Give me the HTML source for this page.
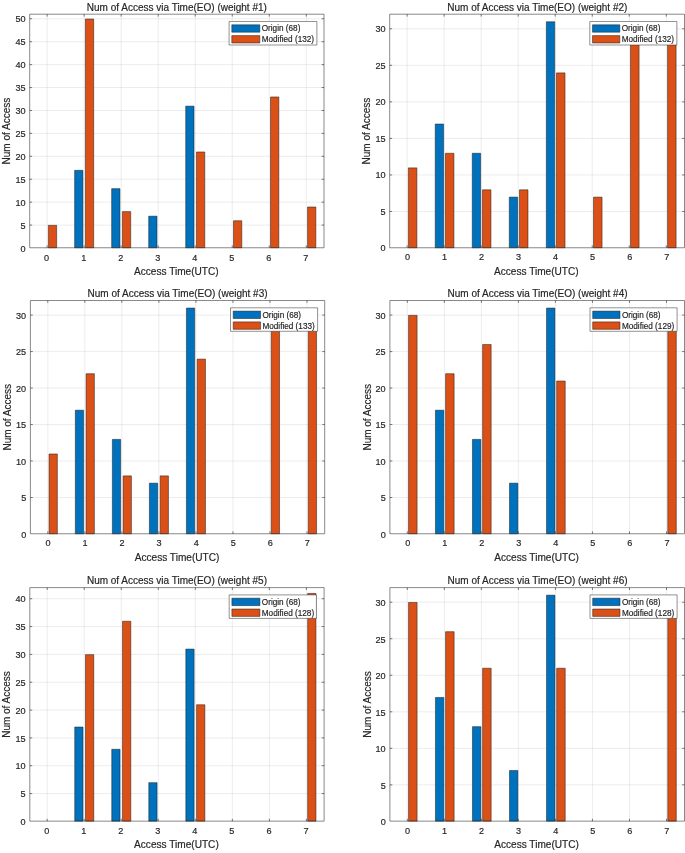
<!DOCTYPE html>
<html lang="en"><head><meta charset="utf-8"><title>Num of Access via Time(EO)</title>
<style>html,body{margin:0;padding:0;background:#fff}body{width:685px;height:853px;overflow:hidden}svg{display:block}</style></head>
<body>
<svg width="685" height="853" viewBox="0 0 685 853" font-family="'Liberation Sans', Arial, Helvetica, sans-serif" fill="#262626" stroke="#262626" stroke-width="0.18" stroke-linejoin="round">
<rect width="685" height="853" fill="#fff" stroke="none"/>
<g>
<path d="M47.1 14.2V247.75M84.13 14.2V247.75M121.16 14.2V247.75M158.19 14.2V247.75M195.22 14.2V247.75M232.25 14.2V247.75M269.28 14.2V247.75M306.31 14.2V247.75M29.7 225.08H324M29.7 202.16H324M29.7 179.24H324M29.7 156.31H324M29.7 133.39H324M29.7 110.47H324M29.7 87.55H324M29.7 64.63H324M29.7 41.71H324M29.7 18.78H324" stroke="#262626" stroke-opacity="0.14" stroke-width="0.6" fill="none"/>
<rect x="48.35" y="225.33" width="8.3" height="22.42" fill="#DB5017" stroke="#1a1a1a" stroke-width="0.5"/>
<rect x="74.63" y="170.32" width="8.3" height="77.43" fill="#0072BD" stroke="#1a1a1a" stroke-width="0.5"/>
<rect x="85.38" y="19.03" width="8.3" height="228.72" fill="#DB5017" stroke="#1a1a1a" stroke-width="0.5"/>
<rect x="111.66" y="188.65" width="8.3" height="59.1" fill="#0072BD" stroke="#1a1a1a" stroke-width="0.5"/>
<rect x="122.41" y="211.58" width="8.3" height="36.17" fill="#DB5017" stroke="#1a1a1a" stroke-width="0.5"/>
<rect x="148.69" y="216.16" width="8.3" height="31.59" fill="#0072BD" stroke="#1a1a1a" stroke-width="0.5"/>
<rect x="185.72" y="106.14" width="8.3" height="141.61" fill="#0072BD" stroke="#1a1a1a" stroke-width="0.5"/>
<rect x="196.47" y="151.98" width="8.3" height="95.77" fill="#DB5017" stroke="#1a1a1a" stroke-width="0.5"/>
<rect x="233.5" y="220.74" width="8.3" height="27.01" fill="#DB5017" stroke="#1a1a1a" stroke-width="0.5"/>
<rect x="270.53" y="96.97" width="8.3" height="150.78" fill="#DB5017" stroke="#1a1a1a" stroke-width="0.5"/>
<rect x="307.56" y="206.99" width="8.3" height="40.76" fill="#DB5017" stroke="#1a1a1a" stroke-width="0.5"/>
<path d="M47.1 247.75v-2.4M47.1 14.2v2.4M84.13 247.75v-2.4M84.13 14.2v2.4M121.16 247.75v-2.4M121.16 14.2v2.4M158.19 247.75v-2.4M158.19 14.2v2.4M195.22 247.75v-2.4M195.22 14.2v2.4M232.25 247.75v-2.4M232.25 14.2v2.4M269.28 247.75v-2.4M269.28 14.2v2.4M306.31 247.75v-2.4M306.31 14.2v2.4M29.7 225.08h2.4M324 225.08h-2.4M29.7 202.16h2.4M324 202.16h-2.4M29.7 179.24h2.4M324 179.24h-2.4M29.7 156.31h2.4M324 156.31h-2.4M29.7 133.39h2.4M324 133.39h-2.4M29.7 110.47h2.4M324 110.47h-2.4M29.7 87.55h2.4M324 87.55h-2.4M29.7 64.63h2.4M324 64.63h-2.4M29.7 41.71h2.4M324 41.71h-2.4M29.7 18.78h2.4M324 18.78h-2.4" stroke="#262626" stroke-width="0.6" fill="none"/>
<rect x="29.7" y="14.2" width="294.3" height="233.55" fill="none" stroke="#262626" stroke-width="0.55"/>
<g font-size="9.1" text-anchor="middle">
<text x="46.65" y="260.55">0</text>
<text x="83.68" y="260.55">1</text>
<text x="120.71" y="260.55">2</text>
<text x="157.74" y="260.55">3</text>
<text x="194.77" y="260.55">4</text>
<text x="231.8" y="260.55">5</text>
<text x="268.83" y="260.55">6</text>
<text x="305.86" y="260.55">7</text>
</g>
<g font-size="9.1" text-anchor="end">
<text x="25.5" y="251.6">0</text>
<text x="25.5" y="228.68">5</text>
<text x="25.5" y="205.76">10</text>
<text x="25.5" y="182.84">15</text>
<text x="25.5" y="159.91">20</text>
<text x="25.5" y="136.99">25</text>
<text x="25.5" y="114.07">30</text>
<text x="25.5" y="91.15">35</text>
<text x="25.5" y="68.23">40</text>
<text x="25.5" y="45.31">45</text>
<text x="25.5" y="22.38">50</text>
</g>
<text x="176.85" y="10.7" font-size="10" text-anchor="middle">Num of Access via Time(EO) (weight #1)</text>
<text x="176.35" y="274.65" font-size="10.1" text-anchor="middle">Access Time(UTC)</text>
<text transform="translate(9.8 131.1) rotate(-90)" font-size="10" text-anchor="middle">Num of Access</text>
<rect x="229.1" y="21.5" width="87.8" height="23.5" fill="#fff" stroke="#262626" stroke-width="0.5"/>
<rect x="231.8" y="24.8" width="28" height="7.4" fill="#0072BD" stroke="#1a1a1a" stroke-width="0.5"/>
<rect x="231.8" y="35.6" width="28" height="7.4" fill="#DB5017" stroke="#1a1a1a" stroke-width="0.5"/>
<text x="261.7" y="31.4" font-size="8.2">Origin (68)</text>
<text x="261.7" y="42.4" font-size="8.2">Modified (132)</text>
</g>
<g>
<path d="M407.1 14.2V247.75M444.13 14.2V247.75M481.16 14.2V247.75M518.19 14.2V247.75M555.22 14.2V247.75M592.25 14.2V247.75M629.28 14.2V247.75M666.31 14.2V247.75M389.7 211.47H684.5M389.7 174.94H684.5M389.7 138.41H684.5M389.7 101.88H684.5M389.7 65.34H684.5M389.7 28.81H684.5" stroke="#262626" stroke-opacity="0.14" stroke-width="0.6" fill="none"/>
<rect x="408.35" y="167.88" width="8.55" height="79.87" fill="#DB5017" stroke="#1a1a1a" stroke-width="0.5"/>
<rect x="435.23" y="124.04" width="8.4" height="123.71" fill="#0072BD" stroke="#1a1a1a" stroke-width="0.5"/>
<rect x="445.38" y="153.27" width="8.55" height="94.48" fill="#DB5017" stroke="#1a1a1a" stroke-width="0.5"/>
<rect x="472.26" y="153.27" width="8.4" height="94.48" fill="#0072BD" stroke="#1a1a1a" stroke-width="0.5"/>
<rect x="482.41" y="189.8" width="8.55" height="57.95" fill="#DB5017" stroke="#1a1a1a" stroke-width="0.5"/>
<rect x="509.29" y="197.11" width="8.4" height="50.64" fill="#0072BD" stroke="#1a1a1a" stroke-width="0.5"/>
<rect x="519.44" y="189.8" width="8.55" height="57.95" fill="#DB5017" stroke="#1a1a1a" stroke-width="0.5"/>
<rect x="546.32" y="21.76" width="8.4" height="225.99" fill="#0072BD" stroke="#1a1a1a" stroke-width="0.5"/>
<rect x="556.47" y="72.9" width="8.55" height="174.85" fill="#DB5017" stroke="#1a1a1a" stroke-width="0.5"/>
<rect x="593.5" y="197.11" width="8.55" height="50.64" fill="#DB5017" stroke="#1a1a1a" stroke-width="0.5"/>
<rect x="630.53" y="25.41" width="8.55" height="222.34" fill="#DB5017" stroke="#1a1a1a" stroke-width="0.5"/>
<rect x="667.56" y="25.41" width="8.55" height="222.34" fill="#DB5017" stroke="#1a1a1a" stroke-width="0.5"/>
<path d="M407.1 247.75v-2.4M407.1 14.2v2.4M444.13 247.75v-2.4M444.13 14.2v2.4M481.16 247.75v-2.4M481.16 14.2v2.4M518.19 247.75v-2.4M518.19 14.2v2.4M555.22 247.75v-2.4M555.22 14.2v2.4M592.25 247.75v-2.4M592.25 14.2v2.4M629.28 247.75v-2.4M629.28 14.2v2.4M666.31 247.75v-2.4M666.31 14.2v2.4M389.7 211.47h2.4M684.5 211.47h-2.4M389.7 174.94h2.4M684.5 174.94h-2.4M389.7 138.41h2.4M684.5 138.41h-2.4M389.7 101.88h2.4M684.5 101.88h-2.4M389.7 65.34h2.4M684.5 65.34h-2.4M389.7 28.81h2.4M684.5 28.81h-2.4" stroke="#262626" stroke-width="0.6" fill="none"/>
<rect x="389.7" y="14.2" width="294.8" height="233.55" fill="none" stroke="#262626" stroke-width="0.55"/>
<g font-size="9.1" text-anchor="middle">
<text x="407.5" y="260.1">0</text>
<text x="444.53" y="260.1">1</text>
<text x="481.56" y="260.1">2</text>
<text x="518.59" y="260.1">3</text>
<text x="555.62" y="260.1">4</text>
<text x="592.65" y="260.1">5</text>
<text x="629.68" y="260.1">6</text>
<text x="666.71" y="260.1">7</text>
</g>
<g font-size="9.1" text-anchor="end">
<text x="385.5" y="251.4">0</text>
<text x="385.5" y="214.87">5</text>
<text x="385.5" y="178.34">10</text>
<text x="385.5" y="141.81">15</text>
<text x="385.5" y="105.28">20</text>
<text x="385.5" y="68.74">25</text>
<text x="385.5" y="32.21">30</text>
</g>
<text x="537.35" y="10.7" font-size="10" text-anchor="middle">Num of Access via Time(EO) (weight #2)</text>
<text x="536.35" y="274.65" font-size="10.1" text-anchor="middle">Access Time(UTC)</text>
<text transform="translate(370.4 131.1) rotate(-90)" font-size="10" text-anchor="middle">Num of Access</text>
<rect x="589.8" y="21.5" width="87.1" height="23.5" fill="#fff" stroke="#262626" stroke-width="0.5"/>
<rect x="592.5" y="24.8" width="27.3" height="7.4" fill="#0072BD" stroke="#1a1a1a" stroke-width="0.5"/>
<rect x="592.5" y="35.6" width="27.3" height="7.4" fill="#DB5017" stroke="#1a1a1a" stroke-width="0.5"/>
<text x="621.7" y="31.4" font-size="8.2">Origin (68)</text>
<text x="621.7" y="42.4" font-size="8.2">Modified (132)</text>
</g>
<g>
<path d="M47.8 300.5V533.75M84.83 300.5V533.75M121.86 300.5V533.75M158.89 300.5V533.75M195.92 300.5V533.75M232.95 300.5V533.75M269.98 300.5V533.75M307.01 300.5V533.75M30.4 497.52H324.7M30.4 461.03H324.7M30.4 424.55H324.7M30.4 388.06H324.7M30.4 351.58H324.7M30.4 315.09H324.7" stroke="#262626" stroke-opacity="0.14" stroke-width="0.6" fill="none"/>
<rect x="49.05" y="453.98" width="8.3" height="79.77" fill="#DB5017" stroke="#1a1a1a" stroke-width="0.5"/>
<rect x="75.33" y="410.2" width="8.3" height="123.55" fill="#0072BD" stroke="#1a1a1a" stroke-width="0.5"/>
<rect x="86.08" y="373.72" width="8.3" height="160.03" fill="#DB5017" stroke="#1a1a1a" stroke-width="0.5"/>
<rect x="112.36" y="439.39" width="8.3" height="94.36" fill="#0072BD" stroke="#1a1a1a" stroke-width="0.5"/>
<rect x="123.11" y="475.88" width="8.3" height="57.88" fill="#DB5017" stroke="#1a1a1a" stroke-width="0.5"/>
<rect x="149.39" y="483.17" width="8.3" height="50.58" fill="#0072BD" stroke="#1a1a1a" stroke-width="0.5"/>
<rect x="160.14" y="475.88" width="8.3" height="57.88" fill="#DB5017" stroke="#1a1a1a" stroke-width="0.5"/>
<rect x="186.42" y="308.05" width="8.3" height="225.7" fill="#0072BD" stroke="#1a1a1a" stroke-width="0.5"/>
<rect x="197.17" y="359.12" width="8.3" height="174.62" fill="#DB5017" stroke="#1a1a1a" stroke-width="0.5"/>
<rect x="271.23" y="315.34" width="8.3" height="218.41" fill="#DB5017" stroke="#1a1a1a" stroke-width="0.5"/>
<rect x="308.26" y="315.34" width="8.3" height="218.41" fill="#DB5017" stroke="#1a1a1a" stroke-width="0.5"/>
<path d="M47.8 533.75v-2.4M47.8 300.5v2.4M84.83 533.75v-2.4M84.83 300.5v2.4M121.86 533.75v-2.4M121.86 300.5v2.4M158.89 533.75v-2.4M158.89 300.5v2.4M195.92 533.75v-2.4M195.92 300.5v2.4M232.95 533.75v-2.4M232.95 300.5v2.4M269.98 533.75v-2.4M269.98 300.5v2.4M307.01 533.75v-2.4M307.01 300.5v2.4M30.4 497.52h2.4M324.7 497.52h-2.4M30.4 461.03h2.4M324.7 461.03h-2.4M30.4 424.55h2.4M324.7 424.55h-2.4M30.4 388.06h2.4M324.7 388.06h-2.4M30.4 351.58h2.4M324.7 351.58h-2.4M30.4 315.09h2.4M324.7 315.09h-2.4" stroke="#262626" stroke-width="0.6" fill="none"/>
<rect x="30.4" y="300.5" width="294.3" height="233.25" fill="none" stroke="#262626" stroke-width="0.55"/>
<g font-size="9.1" text-anchor="middle">
<text x="48.05" y="546.05">0</text>
<text x="85.08" y="546.05">1</text>
<text x="122.11" y="546.05">2</text>
<text x="159.14" y="546.05">3</text>
<text x="196.17" y="546.05">4</text>
<text x="233.2" y="546.05">5</text>
<text x="270.23" y="546.05">6</text>
<text x="307.26" y="546.05">7</text>
</g>
<g font-size="9.1" text-anchor="end">
<text x="26.2" y="537.8">0</text>
<text x="26.2" y="501.32">5</text>
<text x="26.2" y="464.83">10</text>
<text x="26.2" y="428.35">15</text>
<text x="26.2" y="391.86">20</text>
<text x="26.2" y="355.38">25</text>
<text x="26.2" y="318.89">30</text>
</g>
<text x="177.55" y="297" font-size="10" text-anchor="middle">Num of Access via Time(EO) (weight #3)</text>
<text x="177.05" y="560.65" font-size="10.1" text-anchor="middle">Access Time(UTC)</text>
<text transform="translate(10.5 417.25) rotate(-90)" font-size="10" text-anchor="middle">Num of Access</text>
<rect x="230.5" y="307.8" width="87.1" height="23.5" fill="#fff" stroke="#262626" stroke-width="0.5"/>
<rect x="233.2" y="311.1" width="27.3" height="7.4" fill="#0072BD" stroke="#1a1a1a" stroke-width="0.5"/>
<rect x="233.2" y="321.9" width="27.3" height="7.4" fill="#DB5017" stroke="#1a1a1a" stroke-width="0.5"/>
<text x="262.4" y="317.7" font-size="8.2">Origin (68)</text>
<text x="262.4" y="328.7" font-size="8.2">Modified (133)</text>
</g>
<g>
<path d="M407.3 300.5V533.75M444.33 300.5V533.75M481.36 300.5V533.75M518.39 300.5V533.75M555.42 300.5V533.75M592.45 300.5V533.75M629.48 300.5V533.75M666.51 300.5V533.75M389.9 497.52H684.5M389.9 461.03H684.5M389.9 424.55H684.5M389.9 388.06H684.5M389.9 351.58H684.5M389.9 315.09H684.5" stroke="#262626" stroke-opacity="0.14" stroke-width="0.6" fill="none"/>
<rect x="408.55" y="315.34" width="8.55" height="218.41" fill="#DB5017" stroke="#1a1a1a" stroke-width="0.5"/>
<rect x="435.43" y="410.2" width="8.4" height="123.55" fill="#0072BD" stroke="#1a1a1a" stroke-width="0.5"/>
<rect x="445.58" y="373.72" width="8.55" height="160.03" fill="#DB5017" stroke="#1a1a1a" stroke-width="0.5"/>
<rect x="472.46" y="439.39" width="8.4" height="94.36" fill="#0072BD" stroke="#1a1a1a" stroke-width="0.5"/>
<rect x="482.61" y="344.53" width="8.55" height="189.22" fill="#DB5017" stroke="#1a1a1a" stroke-width="0.5"/>
<rect x="509.49" y="483.17" width="8.4" height="50.58" fill="#0072BD" stroke="#1a1a1a" stroke-width="0.5"/>
<rect x="546.52" y="308.05" width="8.4" height="225.7" fill="#0072BD" stroke="#1a1a1a" stroke-width="0.5"/>
<rect x="556.67" y="381.02" width="8.55" height="152.73" fill="#DB5017" stroke="#1a1a1a" stroke-width="0.5"/>
<rect x="667.76" y="315.34" width="8.55" height="218.41" fill="#DB5017" stroke="#1a1a1a" stroke-width="0.5"/>
<path d="M407.3 533.75v-2.4M407.3 300.5v2.4M444.33 533.75v-2.4M444.33 300.5v2.4M481.36 533.75v-2.4M481.36 300.5v2.4M518.39 533.75v-2.4M518.39 300.5v2.4M555.42 533.75v-2.4M555.42 300.5v2.4M592.45 533.75v-2.4M592.45 300.5v2.4M629.48 533.75v-2.4M629.48 300.5v2.4M666.51 533.75v-2.4M666.51 300.5v2.4M389.9 497.52h2.4M684.5 497.52h-2.4M389.9 461.03h2.4M684.5 461.03h-2.4M389.9 424.55h2.4M684.5 424.55h-2.4M389.9 388.06h2.4M684.5 388.06h-2.4M389.9 351.58h2.4M684.5 351.58h-2.4M389.9 315.09h2.4M684.5 315.09h-2.4" stroke="#262626" stroke-width="0.6" fill="none"/>
<rect x="389.9" y="300.5" width="294.6" height="233.25" fill="none" stroke="#262626" stroke-width="0.55"/>
<g font-size="9.1" text-anchor="middle">
<text x="407.7" y="546.1">0</text>
<text x="444.73" y="546.1">1</text>
<text x="481.76" y="546.1">2</text>
<text x="518.79" y="546.1">3</text>
<text x="555.82" y="546.1">4</text>
<text x="592.85" y="546.1">5</text>
<text x="629.88" y="546.1">6</text>
<text x="666.91" y="546.1">7</text>
</g>
<g font-size="9.1" text-anchor="end">
<text x="385.7" y="537.8">0</text>
<text x="385.7" y="501.32">5</text>
<text x="385.7" y="464.83">10</text>
<text x="385.7" y="428.35">15</text>
<text x="385.7" y="391.86">20</text>
<text x="385.7" y="355.38">25</text>
<text x="385.7" y="318.89">30</text>
</g>
<text x="537.55" y="297" font-size="10" text-anchor="middle">Num of Access via Time(EO) (weight #4)</text>
<text x="536.55" y="560.65" font-size="10.1" text-anchor="middle">Access Time(UTC)</text>
<text transform="translate(370.6 417.25) rotate(-90)" font-size="10" text-anchor="middle">Num of Access</text>
<rect x="590" y="307.8" width="87.1" height="23.5" fill="#fff" stroke="#262626" stroke-width="0.5"/>
<rect x="592.7" y="311.1" width="27.3" height="7.4" fill="#0072BD" stroke="#1a1a1a" stroke-width="0.5"/>
<rect x="592.7" y="321.9" width="27.3" height="7.4" fill="#DB5017" stroke="#1a1a1a" stroke-width="0.5"/>
<text x="621.9" y="317.7" font-size="8.2">Origin (68)</text>
<text x="621.9" y="328.7" font-size="8.2">Modified (129)</text>
</g>
<g>
<path d="M47.2 587.6V821.15M84.23 587.6V821.15M121.26 587.6V821.15M158.29 587.6V821.15M195.32 587.6V821.15M232.35 587.6V821.15M269.38 587.6V821.15M306.41 587.6V821.15M29.8 793.57H324.1M29.8 765.73H324.1M29.8 737.9H324.1M29.8 710.07H324.1M29.8 682.23H324.1M29.8 654.4H324.1M29.8 626.57H324.1M29.8 598.73H324.1" stroke="#262626" stroke-opacity="0.14" stroke-width="0.6" fill="none"/>
<rect x="74.73" y="727.02" width="8.3" height="94.13" fill="#0072BD" stroke="#1a1a1a" stroke-width="0.5"/>
<rect x="85.48" y="654.65" width="8.3" height="166.5" fill="#DB5017" stroke="#1a1a1a" stroke-width="0.5"/>
<rect x="111.76" y="749.28" width="8.3" height="71.87" fill="#0072BD" stroke="#1a1a1a" stroke-width="0.5"/>
<rect x="122.51" y="621.25" width="8.3" height="199.9" fill="#DB5017" stroke="#1a1a1a" stroke-width="0.5"/>
<rect x="148.79" y="782.68" width="8.3" height="38.47" fill="#0072BD" stroke="#1a1a1a" stroke-width="0.5"/>
<rect x="185.82" y="649.08" width="8.3" height="172.07" fill="#0072BD" stroke="#1a1a1a" stroke-width="0.5"/>
<rect x="196.57" y="704.75" width="8.3" height="116.4" fill="#DB5017" stroke="#1a1a1a" stroke-width="0.5"/>
<rect x="307.66" y="593.42" width="8.3" height="227.73" fill="#DB5017" stroke="#1a1a1a" stroke-width="0.5"/>
<path d="M47.2 821.15v-2.4M47.2 587.6v2.4M84.23 821.15v-2.4M84.23 587.6v2.4M121.26 821.15v-2.4M121.26 587.6v2.4M158.29 821.15v-2.4M158.29 587.6v2.4M195.32 821.15v-2.4M195.32 587.6v2.4M232.35 821.15v-2.4M232.35 587.6v2.4M269.38 821.15v-2.4M269.38 587.6v2.4M306.41 821.15v-2.4M306.41 587.6v2.4M29.8 793.57h2.4M324.1 793.57h-2.4M29.8 765.73h2.4M324.1 765.73h-2.4M29.8 737.9h2.4M324.1 737.9h-2.4M29.8 710.07h2.4M324.1 710.07h-2.4M29.8 682.23h2.4M324.1 682.23h-2.4M29.8 654.4h2.4M324.1 654.4h-2.4M29.8 626.57h2.4M324.1 626.57h-2.4M29.8 598.73h2.4M324.1 598.73h-2.4" stroke="#262626" stroke-width="0.6" fill="none"/>
<rect x="29.8" y="587.6" width="294.3" height="233.55" fill="none" stroke="#262626" stroke-width="0.55"/>
<g font-size="9.1" text-anchor="middle">
<text x="46.75" y="833.55">0</text>
<text x="83.78" y="833.55">1</text>
<text x="120.81" y="833.55">2</text>
<text x="157.84" y="833.55">3</text>
<text x="194.87" y="833.55">4</text>
<text x="231.9" y="833.55">5</text>
<text x="268.93" y="833.55">6</text>
<text x="305.96" y="833.55">7</text>
</g>
<g font-size="9.1" text-anchor="end">
<text x="25.6" y="825">0</text>
<text x="25.6" y="797.17">5</text>
<text x="25.6" y="769.33">10</text>
<text x="25.6" y="741.5">15</text>
<text x="25.6" y="713.67">20</text>
<text x="25.6" y="685.83">25</text>
<text x="25.6" y="658">30</text>
<text x="25.6" y="630.17">35</text>
<text x="25.6" y="602.33">40</text>
</g>
<text x="176.95" y="584.1" font-size="10" text-anchor="middle">Num of Access via Time(EO) (weight #5)</text>
<text x="176.45" y="848.05" font-size="10.1" text-anchor="middle">Access Time(UTC)</text>
<text transform="translate(9.9 704.5) rotate(-90)" font-size="10" text-anchor="middle">Num of Access</text>
<rect x="229.2" y="594.9" width="87.2" height="23.5" fill="#fff" stroke="#262626" stroke-width="0.5"/>
<rect x="231.9" y="598.2" width="28" height="7.4" fill="#0072BD" stroke="#1a1a1a" stroke-width="0.5"/>
<rect x="231.9" y="609" width="28" height="7.4" fill="#DB5017" stroke="#1a1a1a" stroke-width="0.5"/>
<text x="261.8" y="604.8" font-size="8.2">Origin (68)</text>
<text x="261.8" y="615.8" font-size="8.2">Modified (128)</text>
</g>
<g>
<path d="M407.3 587.6V821.15M444.33 587.6V821.15M481.36 587.6V821.15M518.39 587.6V821.15M555.42 587.6V821.15M592.45 587.6V821.15M629.48 587.6V821.15M666.51 587.6V821.15M389.9 784.87H684.5M389.9 748.34H684.5M389.9 711.81H684.5M389.9 675.28H684.5M389.9 638.74H684.5M389.9 602.21H684.5" stroke="#262626" stroke-opacity="0.14" stroke-width="0.6" fill="none"/>
<rect x="408.55" y="602.46" width="8.55" height="218.69" fill="#DB5017" stroke="#1a1a1a" stroke-width="0.5"/>
<rect x="435.43" y="697.44" width="8.4" height="123.71" fill="#0072BD" stroke="#1a1a1a" stroke-width="0.5"/>
<rect x="445.58" y="631.69" width="8.55" height="189.46" fill="#DB5017" stroke="#1a1a1a" stroke-width="0.5"/>
<rect x="472.46" y="726.67" width="8.4" height="94.48" fill="#0072BD" stroke="#1a1a1a" stroke-width="0.5"/>
<rect x="482.61" y="668.22" width="8.55" height="152.93" fill="#DB5017" stroke="#1a1a1a" stroke-width="0.5"/>
<rect x="509.49" y="770.51" width="8.4" height="50.64" fill="#0072BD" stroke="#1a1a1a" stroke-width="0.5"/>
<rect x="546.52" y="595.16" width="8.4" height="225.99" fill="#0072BD" stroke="#1a1a1a" stroke-width="0.5"/>
<rect x="556.67" y="668.22" width="8.55" height="152.93" fill="#DB5017" stroke="#1a1a1a" stroke-width="0.5"/>
<rect x="667.76" y="602.46" width="8.55" height="218.69" fill="#DB5017" stroke="#1a1a1a" stroke-width="0.5"/>
<path d="M407.3 821.15v-2.4M407.3 587.6v2.4M444.33 821.15v-2.4M444.33 587.6v2.4M481.36 821.15v-2.4M481.36 587.6v2.4M518.39 821.15v-2.4M518.39 587.6v2.4M555.42 821.15v-2.4M555.42 587.6v2.4M592.45 821.15v-2.4M592.45 587.6v2.4M629.48 821.15v-2.4M629.48 587.6v2.4M666.51 821.15v-2.4M666.51 587.6v2.4M389.9 784.87h2.4M684.5 784.87h-2.4M389.9 748.34h2.4M684.5 748.34h-2.4M389.9 711.81h2.4M684.5 711.81h-2.4M389.9 675.28h2.4M684.5 675.28h-2.4M389.9 638.74h2.4M684.5 638.74h-2.4M389.9 602.21h2.4M684.5 602.21h-2.4" stroke="#262626" stroke-width="0.6" fill="none"/>
<rect x="389.9" y="587.6" width="294.6" height="233.55" fill="none" stroke="#262626" stroke-width="0.55"/>
<g font-size="9.1" text-anchor="middle">
<text x="407.55" y="833.6">0</text>
<text x="444.58" y="833.6">1</text>
<text x="481.61" y="833.6">2</text>
<text x="518.64" y="833.6">3</text>
<text x="555.67" y="833.6">4</text>
<text x="592.7" y="833.6">5</text>
<text x="629.73" y="833.6">6</text>
<text x="666.76" y="833.6">7</text>
</g>
<g font-size="9.1" text-anchor="end">
<text x="385.7" y="825.2">0</text>
<text x="385.7" y="788.67">5</text>
<text x="385.7" y="752.14">10</text>
<text x="385.7" y="715.61">15</text>
<text x="385.7" y="679.08">20</text>
<text x="385.7" y="642.54">25</text>
<text x="385.7" y="606.01">30</text>
</g>
<text x="537.55" y="584.1" font-size="10" text-anchor="middle">Num of Access via Time(EO) (weight #6)</text>
<text x="536.55" y="848.05" font-size="10.1" text-anchor="middle">Access Time(UTC)</text>
<text transform="translate(370.6 704.5) rotate(-90)" font-size="10" text-anchor="middle">Num of Access</text>
<rect x="590" y="594.9" width="87.1" height="23.5" fill="#fff" stroke="#262626" stroke-width="0.5"/>
<rect x="592.7" y="598.2" width="27.3" height="7.4" fill="#0072BD" stroke="#1a1a1a" stroke-width="0.5"/>
<rect x="592.7" y="609" width="27.3" height="7.4" fill="#DB5017" stroke="#1a1a1a" stroke-width="0.5"/>
<text x="621.9" y="604.8" font-size="8.2">Origin (68)</text>
<text x="621.9" y="615.8" font-size="8.2">Modified (128)</text>
</g>
</svg>
</body></html>
